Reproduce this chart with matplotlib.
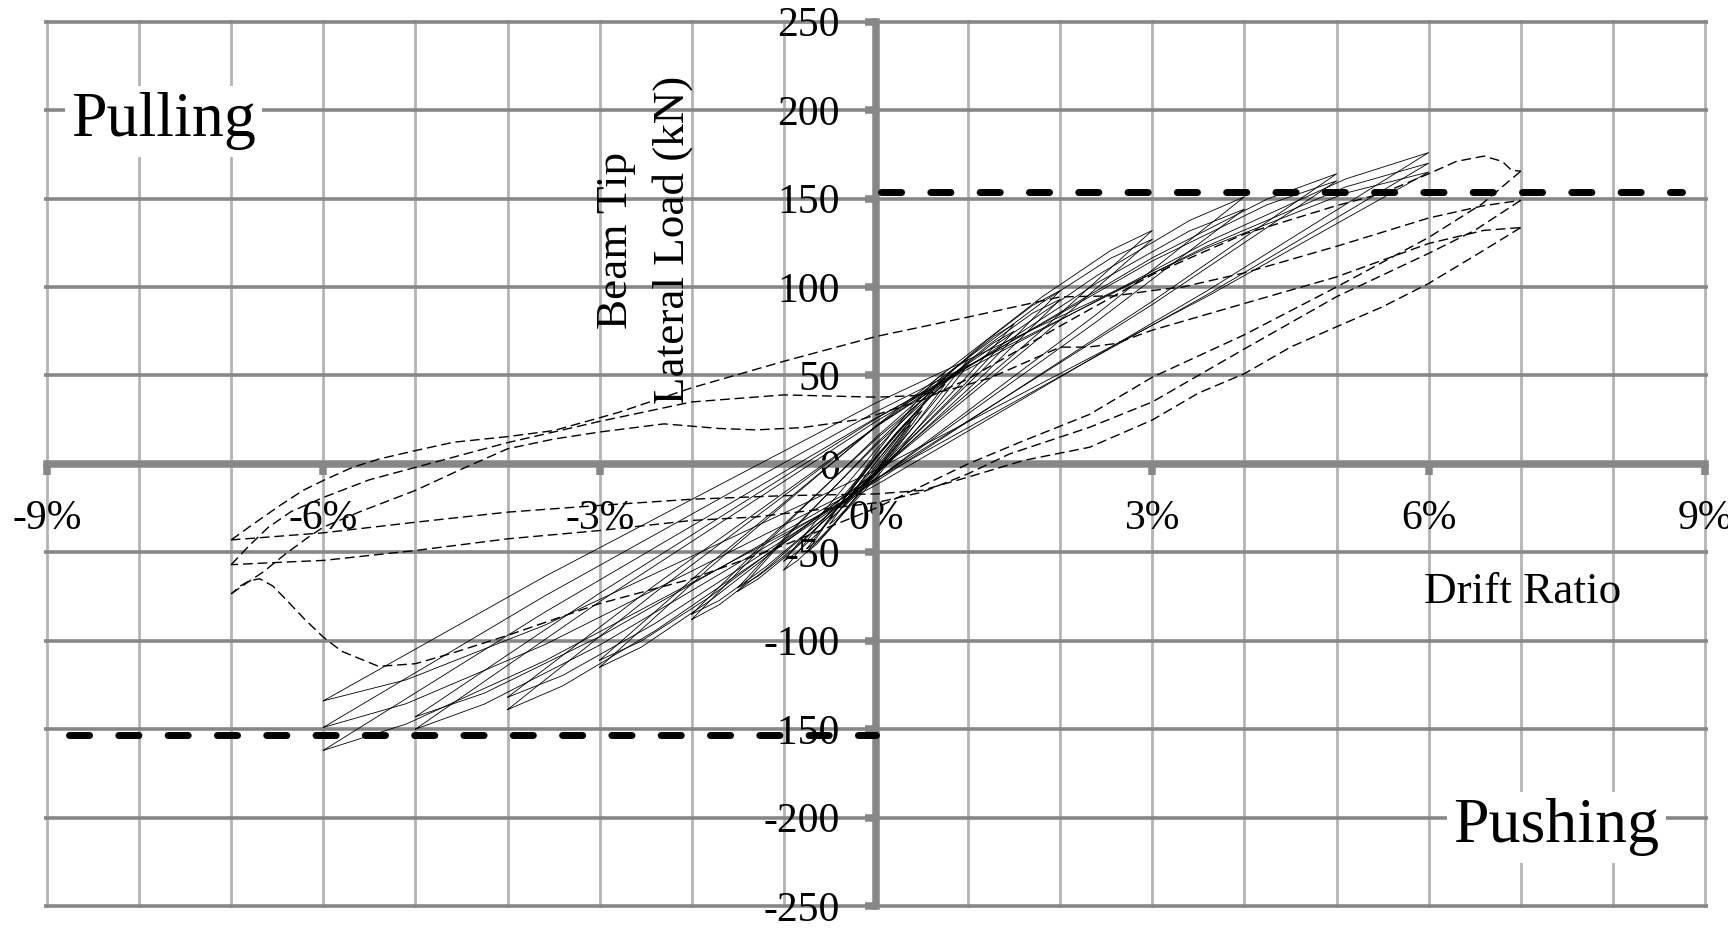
import matplotlib
matplotlib.use("Agg")
import matplotlib.pyplot as plt
from matplotlib.ticker import MultipleLocator

plt.rcParams['font.family'] = ['Liberation Serif', 'DejaVu Serif']

# axis ticks
x_ticks = [-9, -6, -3, 0, 3, 6, 9]
x_tick_labels = ['-9%', '-6%', '-3%', '0%', '3%', '6%', '9%']
y_ticks = [-250, -200, -150, -100, -50, 0, 50, 100, 150, 200, 250]

# nominal capacity lines (kN) and their drift extent (%)
limit_load = 153.5
limit_push_drift = [0.05, 8.75]
limit_pull_drift = [-8.76, 0.0]

# solid hysteresis cycles: (drift %, load kN) vertices
cycles_0375 = [
    [(-0.375, -25), (-0.225, -14.2), (0, 1.0), (0.225, 14.9), (0.32, 19.9), (0.375, 22),
     (0.225, 11.2), (0, -4.0), (-0.225, -17.9), (-0.32, -22.9), (-0.375, -25)],
    [(-0.375, -22), (-0.225, -11.2), (0, 4.0), (0.225, 17.9), (0.32, 22.9), (0.375, 25),
     (0.225, 14.2), (0, -1.0), (-0.225, -14.9), (-0.32, -19.9), (-0.375, -22)],
]
cycles_05 = [
    [(-0.5, -34), (-0.3, -19.6), (0, 1), (0.3, 19.9), (0.425, 26.9), (0.5, 30),
     (0.3, 15.6), (0, -5), (-0.3, -23.9), (-0.425, -30.9), (-0.5, -34)],
    [(-0.5, -31), (-0.3, -16.8), (0, 3.5), (0.3, 22.1), (0.425, 29.0), (0.5, 32),
     (0.3, 17.8), (0, -2.5), (-0.3, -21.1), (-0.425, -28.0), (-0.5, -31)],
]
cycles_075 = [
    [(-0.75, -48), (-0.45, -26.9), (0, 3.0), (0.45, 30.5), (0.64, 40.5), (0.75, 45),
     (0.45, 23.9), (0, -6), (-0.45, -33.5), (-0.64, -43.5), (-0.75, -48)],
    [(-0.75, -50), (-0.45, -26.9), (0, 6), (0.45, 36.1), (0.64, 47.2), (0.75, 52),
     (0.45, 28.9), (0, -4), (-0.45, -34.1), (-0.64, -45.2), (-0.75, -50)],
]
cycles_1 = [
    [(-1, -55), (-0.6, -28.9), (0, 8), (0.6, 41.6), (0.85, 53.8), (1, 59),
     (0.6, 32.9), (0, -4), (-0.6, -37.6), (-0.85, -49.8), (-1, -55)],
    [(-1, -60), (-0.6, -33.5), (0, 4), (0.6, 38.2), (0.85, 50.6), (1, 56),
     (0.6, 29.5), (0, -8), (-0.6, -42.2), (-0.85, -54.6), (-1, -60)],
]
cycles_15 = [
    [(-1.5, -72), (-0.9, -37.4), (0, 11.5), (0.9, 56), (1.28, 72.1), (1.5, 79),
     (0.9, 44.4), (0, -4.5), (-0.9, -49), (-1.28, -65.1), (-1.5, -72)],
    [(-1.5, -70), (-0.9, -36.6), (0, 10.5), (0.9, 53.2), (1.28, 68.5), (1.5, 75),
     (0.9, 41.6), (0, -5.5), (-0.9, -48.2), (-1.28, -63.5), (-1.5, -70)],
]
cycles_2 = [
    [(-2, -88), (-1.2, -45.3), (0, 15), (1.2, 69.8), (1.7, 89.6), (2, 98),
     (1.2, 55.3), (0, -5), (-1.2, -59.8), (-1.7, -79.6), (-2, -88)],
    [(-2, -85), (-1.2, -43.9), (0, 14), (1.2, 66.4), (1.7, 85.2), (2, 93),
     (1.2, 51.9), (0, -6), (-1.2, -58.4), (-1.7, -77.2), (-2, -85)],
]
cycles_3 = [
    [(-3, -115), (-1.8, -58.5), (0, 21.5), (1.8, 94.3), (2.55, 120.7), (3, 132),
     (1.8, 75.5), (0, -4.5), (-1.8, -77.3), (-2.55, -103.7), (-3, -115)],
    [(-3, -111), (-1.8, -56.3), (0, 21), (1.8, 91.1), (2.55, 116.3), (3, 127),
     (1.8, 72.3), (0, -5), (-1.8, -75.1), (-2.55, -100.3), (-3, -111)],
]
cycles_4 = [
    [(-4, -139), (-2.4, -72.8), (0, 21), (2.4, 106.5), (3.4, 137.5), (4, 151),
     (2.4, 84.8), (0, -9), (-2.4, -94.5), (-3.4, -125.5), (-4, -139)],
    [(-4, -132), (-2.4, -68.6), (0, 21), (2.4, 102.3), (3.4, 131.6), (4, 144),
     (2.4, 80.6), (0, -9), (-2.4, -90.3), (-3.4, -119.6), (-4, -132)],
]
cycles_5 = [
    [(-5, -150), (-3, -77.9), (0, 24), (3, 116.5), (4.25, 149.8), (5, 164),
     (3, 91.9), (0, -10), (-3, -102.5), (-4.25, -135.8), (-5, -150)],
    [(-5, -143), (-3, -73.1), (0, 25.5), (3, 114.7), (4.25, 146.6), (5, 160),
     (3, 90.1), (0, -8.5), (-3, -97.7), (-4.25, -129.6), (-5, -143)],
]
cycles_6 = [
    [(-6, -162), (-3.6, -84), (0, 26), (3.6, 125.5), (5.1, 161.1), (6, 176),
     (3.6, 98), (0, -12), (-3.6, -111.5), (-5.1, -147.1), (-6, -162)],
    [(-6, -149), (-3.6, -74.8), (0, 29.5), (3.6, 123.3), (5.1, 156.6), (6, 170),
     (3.6, 95.8), (0, -8.5), (-3.6, -102.3), (-5.1, -135.6), (-6, -149)],
    [(-6, -134), (-3.6, -63.8), (0, 34.5), (3.6, 122.3), (5.1, 153.1), (6, 165),
     (3.6, 94.8), (0, -3.5), (-3.6, -91.3), (-5.1, -122.1), (-6, -134)],
]

# dashed 7% cycles: pushing branches
push_a_drift = [-7.0, -6.85, -6.65, -6.4, -6.15, -6.0, -5.6, -5.0, -4.5, -4.0, -3.5, -3.0,
                -2.3, -1.7, -1.3, -0.8, -0.14, 0.5, 1.0, 2.0, 3.0, 4.0, 5.0, 5.5, 6.0, 6.3,
                6.6, 6.8, 6.9, 7.0]
push_a_load = [-73.5, -68, -61, -50.5, -41, -35.8, -27, -15, -3, 8.5, 14, 18,
               22.6, 20, 19.2, 20.5, 25.4, 36, 48, 78, 107, 130, 146, 153, 164, 171,
               174, 171, 166, 165.5]
push_b_drift = [-7.0, -6.8, -6.6, -6.35, -6.0, -5.5, -5.0, -4.5, -4.0, -3.5, -3.0, -2.0,
                -1.0, 0.0, 0.4, 0.78, 1.23, 2.0, 2.3, 2.6, 3.0, 4.0, 5.0, 6.0, 6.6, 7.0]
push_b_load = [-57, -46, -36, -27, -19, -9, -2, 5, 12, 18, 24, 35,
               39, 37.7, 38.5, 41.6, 48.4, 66, 66, 68, 75.6, 90.7, 105.7, 124.6, 132, 133.6]
push_c_drift = [-7.0, -6.76, -6.47, -6.22, -6.0, -5.68, -5.39, -5.0, -4.59, -4.0, -3.5,
                -2.8, -2.0, -1.0, 0.0, 1.0, 2.0, 2.6, 3.0, 3.33, 4.0, 5.0, 6.0, 6.6, 7.0]
push_c_load = [-43, -34, -23.5, -15, -9.4, -1.9, 2.8, 7.5, 12.2, 15.4, 18.8,
               29, 43, 58, 72, 83, 94.4, 95, 98, 100, 108, 123, 139, 146, 149]

# dashed 7% cycles: unloading and pulling branches
pull_a_drift = [7.0, 6.58, 6.0, 5.0, 4.0, 3.0, 2.32, 1.6, 1.0, 0.6, 0.0, -1.0, -2.0,
                -3.0, -4.0, -4.6, -5.0, -5.4, -5.8, -6.0, -6.2, -6.4, -6.55, -6.69,
                -6.8, -6.9, -7.0]
pull_a_load = [165.5, 147, 128, 100, 73, 49, 28, 13, 0, -10, -25, -46, -65,
               -79, -97, -107, -113, -114.5, -106, -98, -88, -77, -69, -65,
               -66, -69, -73.5]
pull_b_drift = [7.0, 6.5, 6.0, 5.0, 4.0, 3.0, 2.32, 1.45, 1.0, 0.5, 0.0, -0.4, -1.3,
                -2.0, -3.0, -4.0, -5.0, -5.5, -6.0, -6.4, -7.0]
pull_b_load = [149, 132, 119, 94.5, 65, 35, 20.7, 5.6, -5.6, -16, -22, -24.5, -30,
               -32, -37.7, -42.4, -49, -51.8, -54.6, -55.5, -57]
pull_c_drift = [7.0, 6.6, 6.0, 5.5, 5.0, 4.5, 4.0, 3.5, 3.0, 2.32, 1.6, 1.0, 0.5, 0.0,
                -1.0, -2.0, -3.0, -4.0, -5.0, -6.0, -7.0]
pull_c_load = [133.6, 120.8, 102, 88.8, 77.5, 66, 51, 40, 24.8, 9.4, 1.9, -7.5, -15, -17,
               -18, -20, -23.5, -27.3, -33, -39, -43]

fig = plt.figure(figsize=(17.28, 9.34), dpi=100)
ax = fig.add_axes([0.025602, 0.02808, 0.96267, 0.95058])

for group in [cycles_0375, cycles_05, cycles_075, cycles_1, cycles_15,
              cycles_2, cycles_3, cycles_4, cycles_5, cycles_6]:
    for loop in group:
        xs = [p[0] for p in loop]
        ys = [p[1] for p in loop]
        ax.plot(xs, ys, color='black', linewidth=0.6, zorder=3)

for xs, ys in [(push_a_drift, push_a_load), (push_b_drift, push_b_load),
               (push_c_drift, push_c_load), (pull_a_drift, pull_a_load),
               (pull_b_drift, pull_b_load), (pull_c_drift, pull_c_load)]:
    ax.plot(xs, ys, color='black', linewidth=1.0, dashes=(7, 3.5), zorder=3)

# capacity lines
ax.plot(limit_push_drift, [limit_load, limit_load], color='black', linewidth=5,
        dashes=(2.9, 4.2), dash_capstyle='round', zorder=4)
ax.plot(limit_pull_drift, [-limit_load, -limit_load], color='black', linewidth=5,
        dashes=(2.9, 4.2), dash_capstyle='round', zorder=4)

ax.set_xlim(-9.03, 9.03)
ax.set_ylim(-251, 251)

ax.set_xticks(x_ticks)
ax.set_xticklabels(x_tick_labels)
ax.set_yticks(y_ticks)
ax.set_yticklabels([str(v) for v in y_ticks])
ax.xaxis.set_minor_locator(MultipleLocator(1))

ax.set_axisbelow(True)
ax.grid(axis='x', which='both', color='#b4b4b4', linewidth=2.0)
ax.grid(axis='y', which='major', color='#878787', linewidth=2.6)

for side in ['top', 'right']:
    ax.spines[side].set_visible(False)
ax.spines['left'].set_position(('data', 0))
ax.spines['bottom'].set_position(('data', 0))
ax.spines['left'].set_bounds(-250, 250)
ax.spines['bottom'].set_bounds(-9, 9)
for side in ['left', 'bottom']:
    ax.spines[side].set_color('#878787')
    ax.spines[side].set_linewidth(5.4)

ax.tick_params(axis='both', which='major', direction='out', length=8, width=5.4,
               color='#878787', labelsize=30, pad=18)
ax.tick_params(axis='x', which='minor', length=0)

ax.text(-2.513, 126.5, 'Beam Tip\nLateral Load (kN)', rotation=90, ha='center',
        va='center', multialignment='center', linespacing=1.5, fontsize=32.5, zorder=5)
ax.text(7.02, -78.4, 'Drift Ratio', ha='center', va='baseline', fontsize=32.5, zorder=5)
ax.text(-7.735, 185.3, 'Pulling', ha='center', va='baseline', fontsize=46, zorder=5,
        bbox=dict(boxstyle='square,pad=0.1', fc='white', ec='none'))
ax.text(7.385, -214, 'Pushing', ha='center', va='baseline', fontsize=46, zorder=5,
        bbox=dict(boxstyle='square,pad=0.1', fc='white', ec='none'))

fig.savefig('out.png', dpi=100)
